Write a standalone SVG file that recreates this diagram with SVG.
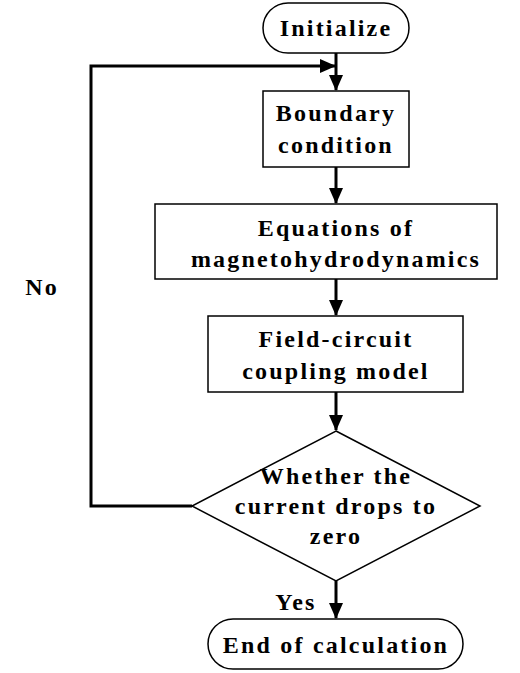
<svg xmlns="http://www.w3.org/2000/svg" width="520" height="673" viewBox="0 0 520 673">
<style>
.box{fill:#fff;stroke:#000;stroke-width:1.5}
.t{font-family:'Liberation Serif', 'Times New Roman', 'DejaVu Serif', serif;font-weight:700;font-size:24px;fill:#000;text-anchor:middle;letter-spacing:2.2px}
.c{fill:none;stroke:#000;stroke-width:3}
</style>
<defs>
<marker id="ah" markerWidth="16" markerHeight="14" refX="15" refY="7" orient="auto" markerUnits="userSpaceOnUse" viewBox="0 0 16 14">
<path d="M0,0 L16,7 L0,14 z" fill="#000"/>
</marker>
</defs>
<rect width="520" height="673" fill="#fff"/>
<g id="connectors">
<line class="c" x1="336" y1="53" x2="336" y2="90" marker-end="url(#ah)"/>
<line class="c" x1="336" y1="167" x2="336" y2="203" marker-end="url(#ah)"/>
<line class="c" x1="336" y1="279" x2="336" y2="315" marker-end="url(#ah)"/>
<line class="c" x1="336" y1="392" x2="336" y2="430" marker-end="url(#ah)"/>
<line class="c" x1="336" y1="581" x2="336" y2="618" marker-end="url(#ah)"/>
<polyline class="c" points="192,506 91,506 91,66 335,66" marker-end="url(#ah)"/>
<text class="t" x="42" y="295">No</text>
<text class="t" x="296" y="610">Yes</text>
</g>
<g id="initialize">
<rect class="box" x="263" y="3" width="146" height="50" rx="25"/>
<text class="t" x="336" y="36">Initialize</text>
</g>
<g id="boundary">
<rect class="box" x="263" y="91" width="146" height="76"/>
<text class="t" x="336" y="121">Boundary</text>
<text class="t" x="336" y="153">condition</text>
</g>
<g id="equations">
<rect class="box" x="155" y="204" width="342" height="75"/>
<text class="t" x="336" y="236">Equations of</text>
<text class="t" x="336" y="267">magnetohydrodynamics</text>
</g>
<g id="fieldcircuit">
<rect class="box" x="208" y="316" width="255" height="76"/>
<text class="t" x="336" y="347">Field-circuit</text>
<text class="t" x="336" y="379">coupling model</text>
</g>
<g id="decision">
<polygon class="box" points="336,431 480,506 336,581 192,506"/>
<text class="t" x="336" y="484">Whether the</text>
<text class="t" x="336" y="514">current drops to</text>
<text class="t" x="336" y="544">zero</text>
</g>
<g id="end">
<rect class="box" x="208" y="619" width="255" height="50" rx="25"/>
<text class="t" x="336" y="653">End of calculation</text>
</g>
</svg>
